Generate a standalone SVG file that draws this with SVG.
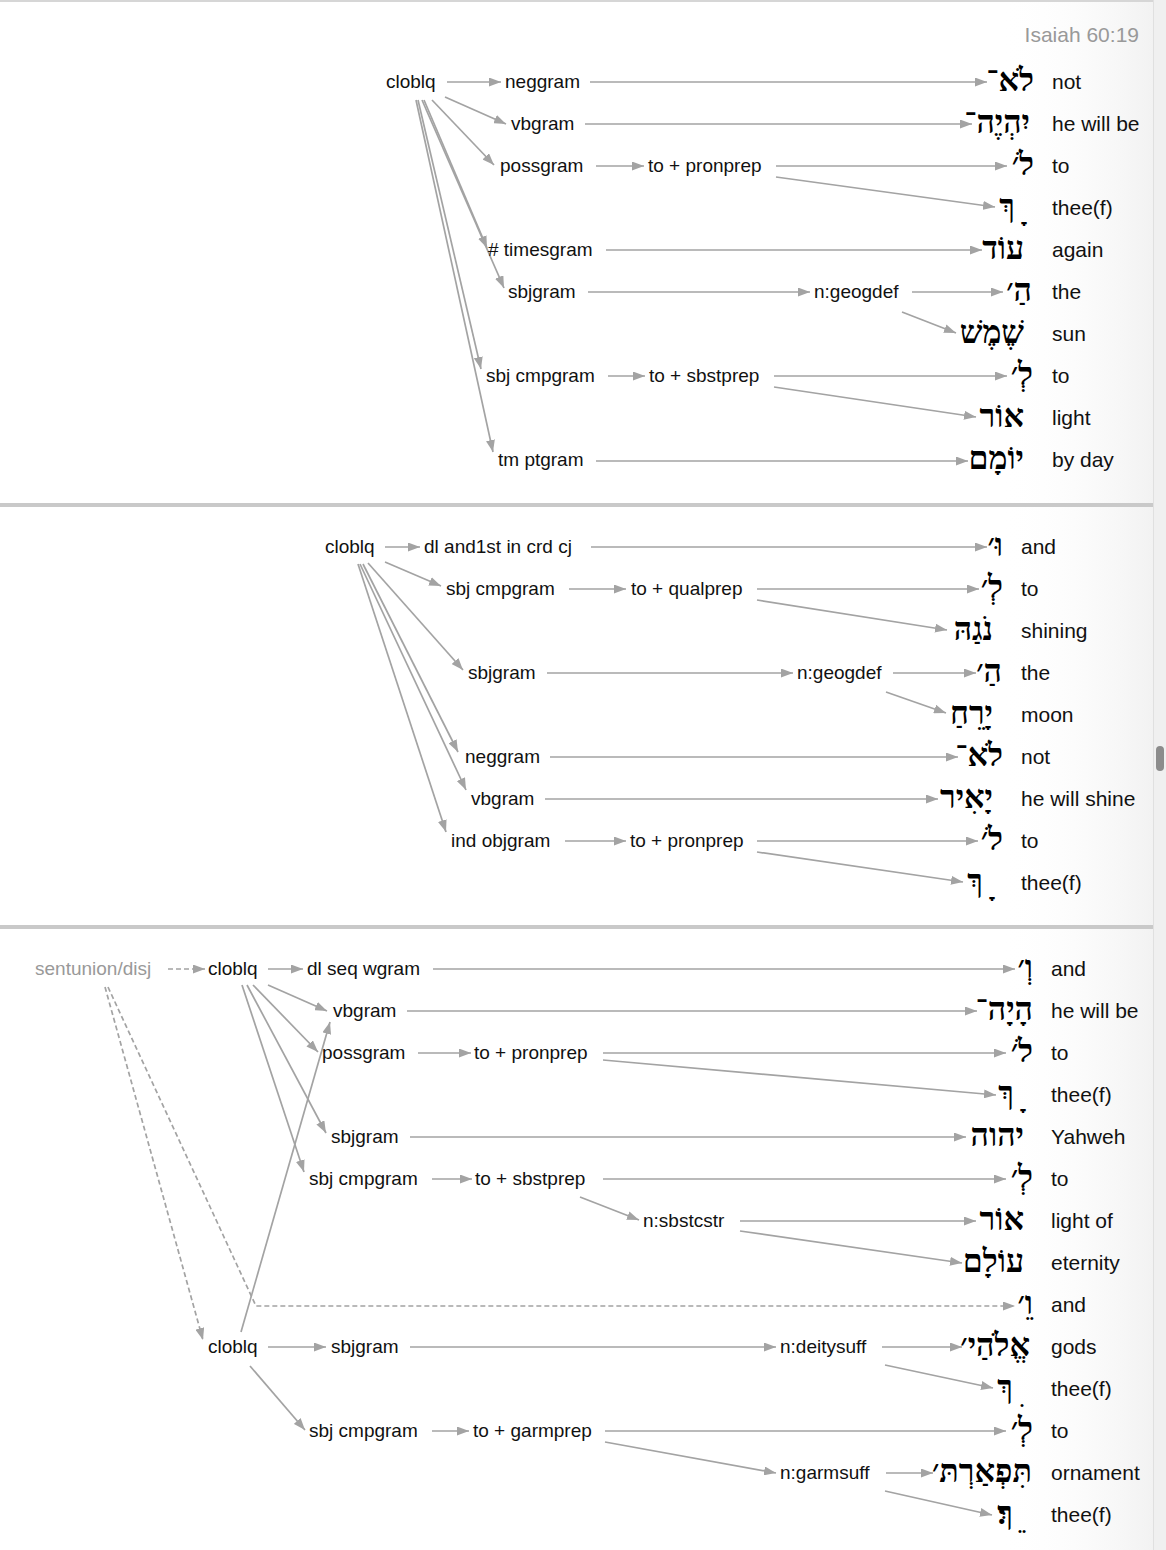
<svg xmlns="http://www.w3.org/2000/svg" width="1166" height="1550" viewBox="0 0 1166 1550">
<style>
.t{font-family:"Liberation Sans",Arial,sans-serif;font-size:19px;fill:#111}
.w{font-family:"Liberation Sans",Arial,sans-serif;font-size:21px;fill:#111}
.g{fill:#999}
.h{font-family:"Liberation Serif","DejaVu Serif",serif;font-size:32px;font-weight:bold;fill:#000;text-anchor:end}
.v{font-family:"Liberation Serif","DejaVu Serif",serif;font-size:32px;font-weight:bold;fill:#000}
.e{fill:none;stroke:#a3a3a3;stroke-width:1.7;marker-end:url(#a)}
.d{stroke-dasharray:5 3}
</style>
<defs>
<marker id="a" viewBox="0 0 12 9" refX="12" refY="4.5" markerWidth="12" markerHeight="9" markerUnits="userSpaceOnUse" orient="auto"><path d="M0,0 L12,4.5 L0,9 z" fill="#a3a3a3"/></marker>
<linearGradient id="sh" x1="0" x2="1" y1="0" y2="0"><stop offset="0" stop-color="#fff" stop-opacity="0"/><stop offset="1" stop-color="#f2f2f2"/></linearGradient>
</defs>
<rect width="1166" height="1550" fill="#fff"/>
<rect x="1000" y="0" width="153" height="1550" fill="url(#sh)"/>
<rect x="1153" y="0" width="13" height="1550" fill="#f0f0f0"/>
<line x1="1153.5" y1="0" x2="1153.5" y2="1550" stroke="#e0e0e0"/>
<rect x="1156" y="746" width="8" height="25" rx="4" fill="#8c8c8c"/>
<rect x="0" y="0" width="1153" height="2" fill="#d6d6d6"/>
<rect x="0" y="503" width="1153" height="4" fill="#c9c9c9"/>
<rect x="0" y="925" width="1153" height="4" fill="#c9c9c9"/>
<text class="w g" x="1139" y="42" text-anchor="end">Isaiah 60:19</text>

<g id="connectors">
<path class="e" d="M447,82 L501,82"/>
<path class="e" d="M445,97 L506,124"/>
<path class="e" d="M432,100 L494,165"/>
<path class="e" d="M424,100 L487,248"/>
<path class="e" d="M422,100 L504,288"/>
<path class="e" d="M418,100 L481,369"/>
<path class="e" d="M416,100 L493,452"/>
<path class="e" d="M590,82 L987,82"/>
<path class="e" d="M585,124 L972,124"/>
<path class="e" d="M596,166 L644,166"/>
<path class="e" d="M776,166 L1007,166"/>
<path class="e" d="M776,177 L995,207"/>
<path class="e" d="M606,250 L982,250"/>
<path class="e" d="M588,292 L810,292"/>
<path class="e" d="M912,292 L1003,292"/>
<path class="e" d="M902,312 L956,333"/>
<path class="e" d="M608,376 L645,376"/>
<path class="e" d="M774,376 L1007,376"/>
<path class="e" d="M774,387 L976,417"/>
<path class="e" d="M596,461 L968,461"/>
<path class="e" d="M385,547 L420,547"/>
<path class="e" d="M385,562 L441,586"/>
<path class="e" d="M368,563 L463,670"/>
<path class="e" d="M363,564 L458,752"/>
<path class="e" d="M360,564 L466,790"/>
<path class="e" d="M358,564 L446,832"/>
<path class="e" d="M591,547 L987,547"/>
<path class="e" d="M569,589 L626,589"/>
<path class="e" d="M757,589 L979,589"/>
<path class="e" d="M757,600 L947,630"/>
<path class="e" d="M547,673 L793,673"/>
<path class="e" d="M893,673 L976,673"/>
<path class="e" d="M886,692 L946,713"/>
<path class="e" d="M550,757 L958,757"/>
<path class="e" d="M545,799 L938,799"/>
<path class="e" d="M565,841 L626,841"/>
<path class="e" d="M757,841 L978,841"/>
<path class="e" d="M757,852 L963,882"/>
<path class="e d" d="M168,969 L205,969"/>
<path class="e d" d="M105,987 L203,1340"/>
<path class="e d" d="M108,987 L256,1306 L1015,1306"/>
<path class="e" d="M268,969 L303,969"/>
<path class="e" d="M268,985 L327,1011"/>
<path class="e" d="M253,985 L318,1052"/>
<path class="e" d="M247,985 L326,1133"/>
<path class="e" d="M242,985 L304,1172"/>
<path class="e" d="M241,1332 L330,1022"/>
<path class="e" d="M433,969 L1015,969"/>
<path class="e" d="M407,1011 L977,1011"/>
<path class="e" d="M418,1053 L471,1053"/>
<path class="e" d="M603,1053 L1006,1053"/>
<path class="e" d="M603,1060 L996,1095"/>
<path class="e" d="M410,1137 L966,1137"/>
<path class="e" d="M432,1179 L472,1179"/>
<path class="e" d="M603,1179 L1006,1179"/>
<path class="e" d="M580,1197 L639,1220"/>
<path class="e" d="M740,1221 L976,1221"/>
<path class="e" d="M740,1231 L962,1263"/>
<path class="e" d="M268,1347 L326,1347"/>
<path class="e" d="M410,1347 L776,1347"/>
<path class="e" d="M882,1347 L962,1347"/>
<path class="e" d="M885,1365 L993,1388"/>
<path class="e" d="M250,1366 L305,1430"/>
<path class="e" d="M432,1431 L469,1431"/>
<path class="e" d="M605,1431 L1006,1431"/>
<path class="e" d="M605,1442 L776,1473"/>
<path class="e" d="M886,1473 L933,1473"/>
<path class="e" d="M885,1491 L992,1515"/>
</g>

<g id="s1-cloblq"><text class="t" x="386" y="88">cloblq</text></g>
<g id="s1-neggram"><text class="t" x="505" y="88">neggram</text></g>
<g id="s1-vbgram"><text class="t" x="511" y="130">vbgram</text></g>
<g id="s1-possgram"><text class="t" x="500" y="172">possgram</text></g>
<g id="s1-topronprep"><text class="t" x="648" y="172">to + pronprep</text></g>
<g id="s1-timesgram"><text class="t" x="488" y="256"># timesgram</text></g>
<g id="s1-sbjgram"><text class="t" x="508" y="298">sbjgram</text></g>
<g id="s1-geogdef"><text class="t" x="814" y="298">n:geogdef</text></g>
<g id="s1-sbjcmpgram"><text class="t" x="486" y="382">sbj cmpgram</text></g>
<g id="s1-tosbstprep"><text class="t" x="649" y="382">to + sbstprep</text></g>
<g id="s1-tmptgram"><text class="t" x="498" y="466">tm ptgram</text></g>
<g id="s1-w1"><text class="h" x="1034" y="91">לֹא־</text><text class="w" x="1052" y="89">not</text></g>
<g id="s1-w2"><text class="h" x="1030" y="133">יִהְיֶה־</text><text class="w" x="1052" y="131">he will be</text></g>
<g id="s1-w3"><text class="h" x="1034" y="175">לֹ׳</text><text class="w" x="1052" y="173">to</text></g>
<g id="s1-w4"><text class="h" x="1015" y="217">ךְ</text><text class="v" x="1024" y="220"> ָ</text><text class="w" x="1052" y="215">thee(f)</text></g>
<g id="s1-w5"><text class="h" x="1024" y="259">עוֹד</text><text class="w" x="1052" y="257">again</text></g>
<g id="s1-w6"><text class="h" x="1032" y="301">הַ׳</text><text class="w" x="1052" y="299">the</text></g>
<g id="s1-w7"><text class="h" x="1024" y="343">שֶׁמֶשׁ</text><text class="w" x="1052" y="341">sun</text></g>
<g id="s1-w8"><text class="h" x="1033" y="385">לְ׳</text><text class="w" x="1052" y="383">to</text></g>
<g id="s1-w9"><text class="h" x="1024" y="427">אוֹר</text><text class="w" x="1052" y="425">light</text></g>
<g id="s1-w10"><text class="h" x="1024" y="469">יוֹמָם</text><text class="w" x="1052" y="467">by day</text></g>

<g id="s2-cloblq"><text class="t" x="325" y="553">cloblq</text></g>
<g id="s2-dland"><text class="t" x="424" y="553">dl and1st in crd cj</text></g>
<g id="s2-sbjcmpgram"><text class="t" x="446" y="595">sbj cmpgram</text></g>
<g id="s2-toqualprep"><text class="t" x="631" y="595">to + qualprep</text></g>
<g id="s2-sbjgram"><text class="t" x="468" y="679">sbjgram</text></g>
<g id="s2-geogdef"><text class="t" x="797" y="679">n:geogdef</text></g>
<g id="s2-neggram"><text class="t" x="465" y="763">neggram</text></g>
<g id="s2-vbgram"><text class="t" x="471" y="805">vbgram</text></g>
<g id="s2-indobjgram"><text class="t" x="451" y="847">ind objgram</text></g>
<g id="s2-topronprep"><text class="t" x="630" y="847">to + pronprep</text></g>
<g id="s2-w1"><text class="h" x="1003" y="556">וּ׳</text><text class="w" x="1021" y="554">and</text></g>
<g id="s2-w2"><text class="h" x="1003" y="598">לְ׳</text><text class="w" x="1021" y="596">to</text></g>
<g id="s2-w3"><text class="h" x="993" y="640">נֹגַהּ</text><text class="w" x="1021" y="638">shining</text></g>
<g id="s2-w4"><text class="h" x="1002" y="682">הַ׳</text><text class="w" x="1021" y="680">the</text></g>
<g id="s2-w5"><text class="h" x="993" y="724">יָרֵחַ</text><text class="w" x="1021" y="722">moon</text></g>
<g id="s2-w6"><text class="h" x="1003" y="766">לֹא־</text><text class="w" x="1021" y="764">not</text></g>
<g id="s2-w7"><text class="h" x="993" y="808">יָאִיר</text><text class="w" x="1021" y="806">he will shine</text></g>
<g id="s2-w8"><text class="h" x="1003" y="850">לֹ׳</text><text class="w" x="1021" y="848">to</text></g>
<g id="s2-w9"><text class="h" x="983" y="892">ךְ</text><text class="v" x="992" y="895"> ָ</text><text class="w" x="1021" y="890">thee(f)</text></g>

<g id="s3-sentunion"><text class="t g" x="35" y="975">sentunion/disj</text></g>
<g id="s3-cloblq1"><text class="t" x="208" y="975">cloblq</text></g>
<g id="s3-dlseq"><text class="t" x="307" y="975">dl seq wgram</text></g>
<g id="s3-vbgram"><text class="t" x="333" y="1017">vbgram</text></g>
<g id="s3-possgram"><text class="t" x="322" y="1059">possgram</text></g>
<g id="s3-topronprep"><text class="t" x="474" y="1059">to + pronprep</text></g>
<g id="s3-sbjgram1"><text class="t" x="331" y="1143">sbjgram</text></g>
<g id="s3-sbjcmpgram1"><text class="t" x="309" y="1185">sbj cmpgram</text></g>
<g id="s3-tosbstprep"><text class="t" x="475" y="1185">to + sbstprep</text></g>
<g id="s3-sbstcstr"><text class="t" x="643" y="1227">n:sbstcstr</text></g>
<g id="s3-cloblq2"><text class="t" x="208" y="1353">cloblq</text></g>
<g id="s3-sbjgram2"><text class="t" x="331" y="1353">sbjgram</text></g>
<g id="s3-deitysuff"><text class="t" x="780" y="1353">n:deitysuff</text></g>
<g id="s3-sbjcmpgram2"><text class="t" x="309" y="1437">sbj cmpgram</text></g>
<g id="s3-togarmprep"><text class="t" x="473" y="1437">to + garmprep</text></g>
<g id="s3-garmsuff"><text class="t" x="780" y="1479">n:garmsuff</text></g>
<g id="s3-w1"><text class="h" x="1033" y="978">וְ׳</text><text class="w" x="1051" y="976">and</text></g>
<g id="s3-w2"><text class="h" x="1033" y="1020">הָיָה־</text><text class="w" x="1051" y="1018">he will be</text></g>
<g id="s3-w3"><text class="h" x="1033" y="1062">לֹ׳</text><text class="w" x="1051" y="1060">to</text></g>
<g id="s3-w4"><text class="h" x="1014" y="1104">ךְ</text><text class="v" x="1023" y="1107"> ָ</text><text class="w" x="1051" y="1102">thee(f)</text></g>
<g id="s3-w5"><text class="h" x="1024" y="1146">יהוה</text><text class="w" x="1051" y="1144">Yahweh</text></g>
<g id="s3-w6"><text class="h" x="1033" y="1188">לְ׳</text><text class="w" x="1051" y="1186">to</text></g>
<g id="s3-w7"><text class="h" x="1024" y="1230">אוֹר</text><text class="w" x="1051" y="1228">light of</text></g>
<g id="s3-w8"><text class="h" x="1024" y="1272">עוֹלָם</text><text class="w" x="1051" y="1270">eternity</text></g>
<g id="s3-w9"><text class="h" x="1033" y="1314">וֵ׳</text><text class="w" x="1051" y="1312">and</text></g>
<g id="s3-w10"><text class="h" x="1030" y="1356">אֱלֹהַי׳</text><text class="w" x="1051" y="1354">gods</text></g>
<g id="s3-w11"><text class="h" x="1013" y="1398">ךְ</text><text class="v" x="1022" y="1401"> ִ</text><text class="w" x="1051" y="1396">thee(f)</text></g>
<g id="s3-w12"><text class="h" x="1033" y="1440">לְ׳</text><text class="w" x="1051" y="1438">to</text></g>
<g id="s3-w13"><text class="h" x="1032" y="1482">תִּפְאַרְתּ׳</text><text class="w" x="1051" y="1480">ornament</text></g>
<g id="s3-w14"><text class="h" x="1013" y="1524">ךְ׃</text><text class="v" x="1022" y="1527"> ֵ</text><text class="w" x="1051" y="1522">thee(f)</text></g>
</svg>
